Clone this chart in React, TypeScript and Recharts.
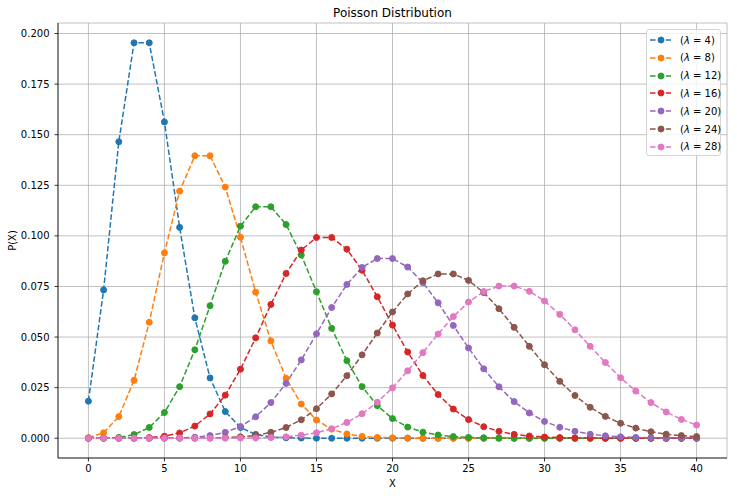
import { LineChart, Line, XAxis, YAxis, CartesianGrid, Legend } from "recharts";

const FONT = "DejaVu Sans";

const ks = Array.from({ length: 41 }, (_, i) => i);

const lambdas = [4, 8, 12, 16, 20, 24, 28];
const colors = ["#1f77b4", "#ff7f0e", "#2ca02c", "#d62728", "#9467bd", "#8c564b", "#e377c2"];

const lam4 = [
  0.0183, 0.0733, 0.1465, 0.1954, 0.1954, 0.1563, 0.1042, 0.0595, 0.0298, 0.0132,
  0.0053, 0.0019, 0.0006, 0.0002, 0.0001, 0, 0, 0, 0, 0,
  0, 0, 0, 0, 0, 0, 0, 0, 0, 0,
  0, 0, 0, 0, 0, 0, 0, 0, 0, 0,
  0,
];
const lam8 = [
  0.0003, 0.0027, 0.0107, 0.0286, 0.0573, 0.0916, 0.1221, 0.1396, 0.1396, 0.1241,
  0.0993, 0.0722, 0.0481, 0.0296, 0.0169, 0.009, 0.0045, 0.0021, 0.0009, 0.0004,
  0.0002, 0.0001, 0, 0, 0, 0, 0, 0, 0, 0,
  0, 0, 0, 0, 0, 0, 0, 0, 0, 0,
  0,
];
const lam12 = [
  0, 0.0001, 0.0004, 0.0018, 0.0053, 0.0127, 0.0255, 0.0437, 0.0655, 0.0874,
  0.1048, 0.1144, 0.1144, 0.1056, 0.0905, 0.0724, 0.0543, 0.0383, 0.0255, 0.0161,
  0.0097, 0.0055, 0.003, 0.0016, 0.0008, 0.0004, 0.0002, 0.0001, 0, 0,
  0, 0, 0, 0, 0, 0, 0, 0, 0, 0,
  0,
];
const lam16 = [
  0, 0, 0, 0.0001, 0.0003, 0.001, 0.0026, 0.006, 0.012, 0.0213,
  0.0341, 0.0496, 0.0661, 0.0814, 0.093, 0.0992, 0.0992, 0.0934, 0.083, 0.0699,
  0.0559, 0.0426, 0.031, 0.0216, 0.0144, 0.0092, 0.0057, 0.0034, 0.0019, 0.0011,
  0.0006, 0.0003, 0.0001, 0.0001, 0, 0, 0, 0, 0, 0,
  0,
];
const lam20 = [
  0, 0, 0, 0, 0, 0.0001, 0.0002, 0.0005, 0.0013, 0.0029,
  0.0058, 0.0106, 0.0176, 0.0271, 0.0387, 0.0516, 0.0646, 0.076, 0.0844, 0.0888,
  0.0888, 0.0846, 0.0769, 0.0669, 0.0557, 0.0446, 0.0343, 0.0254, 0.0181, 0.0125,
  0.0083, 0.0054, 0.0034, 0.002, 0.0012, 0.0007, 0.0004, 0.0002, 0.0001, 0.0001,
  0,
];
const lam24 = [
  0, 0, 0, 0, 0, 0, 0, 0, 0.0001, 0.0003,
  0.0007, 0.0014, 0.0029, 0.0053, 0.0091, 0.0146, 0.0219, 0.0309, 0.0412, 0.052,
  0.0624, 0.0713, 0.0778, 0.0812, 0.0812, 0.078, 0.072, 0.064, 0.0548, 0.0454,
  0.0363, 0.0281, 0.0211, 0.0153, 0.0108, 0.0074, 0.005, 0.0032, 0.002, 0.0013,
  0.0008,
];
const lam28 = [
  0, 0, 0, 0, 0, 0, 0, 0, 0, 0,
  0.0001, 0.0001, 0.0003, 0.0007, 0.0015, 0.0027, 0.0047, 0.0078, 0.0121, 0.0178,
  0.0249, 0.0333, 0.0423, 0.0515, 0.0601, 0.0673, 0.0725, 0.0752, 0.0752, 0.0726,
  0.0678, 0.0612, 0.0536, 0.0454, 0.0374, 0.0299, 0.0233, 0.0176, 0.013, 0.0093,
  0.0065,
];

const seriesValues = [lam4, lam8, lam12, lam16, lam20, lam24, lam28];

const xTicks = [0, 5, 10, 15, 20, 25, 30, 35, 40];
const yTicks = [0, 0.025, 0.05, 0.075, 0.1, 0.125, 0.15, 0.175, 0.2];

const data = ks.map((k, i) => {
  const row: Record<string, number> = { x: k };
  lambdas.forEach((l, j) => {
    row[`l${l}`] = seriesValues[j][i];
  });
  return row;
});

const W = 737;
const H = 496;
const PLOT_LEFT = 58;
const PLOT_RIGHT = 727;
const PLOT_TOP = 23;
const PLOT_BOTTOM = 458;

function LegendBox() {
  return (
    <div
      style={{
        width: 75,
        height: 127,
        boxSizing: "border-box",
        border: "1px solid #d5d5d5",
        borderRadius: 3,
        background: "rgba(255,255,255,0.8)",
        fontFamily: FONT,
        fontSize: 10,
        color: "#000",
        position: "relative",
      }}
    >
      {lambdas.map((l, j) => (
        <div
          key={l}
          style={{
            position: "absolute",
            left: 0,
            top: 10 + j * 17.8 - 7,
            height: 14,
            display: "flex",
            alignItems: "center",
            whiteSpace: "nowrap",
          }}
        >
          <svg width={32} height={14} style={{ display: "block" }}>
            <line x1={3} x2={24} y1={7} y2={7} stroke={colors[j]} strokeWidth={1.5} strokeDasharray="5.55 2.4" />
            <circle cx={14} cy={7} r={3} fill={colors[j]} stroke={colors[j]} strokeWidth={1} />
          </svg>
          <span style={{ marginLeft: 1 }}>
            (<span style={{ fontStyle: "italic" }}>λ</span> = {l})
          </span>
        </div>
      ))}
    </div>
  );
}

export default function App() {
  return (
    <div style={{ position: "absolute", left: 0, top: 0, width: W, height: H, background: "#fff" }}>
      <LineChart
        width={W}
        height={H}
        data={data}
        margin={{ top: PLOT_TOP, right: W - PLOT_RIGHT, left: 0, bottom: 0 }}
      >
        <CartesianGrid stroke="#b0b0b0" strokeWidth={0.8} />
        <XAxis
          dataKey="x"
          type="number"
          domain={[-2, 42]}
          ticks={xTicks}
          allowDataOverflow
          height={H - PLOT_BOTTOM}
          axisLine={{ stroke: "#000", strokeWidth: 0.8 }}
          tickLine={{ stroke: "#000", strokeWidth: 0.8 }}
          tickSize={3.5}
          tickMargin={3}
          tick={{ fontSize: 10, fill: "#000", fontFamily: FONT }}
        />
        <XAxis
          xAxisId="top"
          orientation="top"
          dataKey="x"
          type="number"
          domain={[-2, 42]}
          height={0}
          tick={false}
          tickLine={false}
          axisLine={{ stroke: "#000", strokeWidth: 0.8 }}
        />
        <YAxis
          type="number"
          domain={[-0.00977, 0.2052]}
          ticks={yTicks}
          allowDataOverflow
          width={PLOT_LEFT}
          axisLine={{ stroke: "#000", strokeWidth: 0.8 }}
          tickLine={{ stroke: "#000", strokeWidth: 0.8 }}
          tickSize={3.5}
          tickMargin={5}
          tickFormatter={(v: number) => v.toFixed(3)}
          tick={{ fontSize: 10, fill: "#000", fontFamily: FONT }}
        />
        <YAxis
          yAxisId="right"
          orientation="right"
          type="number"
          domain={[-0.00977, 0.2052]}
          width={0}
          tick={false}
          tickLine={false}
          axisLine={{ stroke: "#000", strokeWidth: 0.8 }}
        />
        {lambdas.map((l, j) => (
          <Line
            key={l}
            type="linear"
            dataKey={`l${l}`}
            name={`(λ = ${l})`}
            stroke={colors[j]}
            strokeWidth={1.5}
            strokeDasharray="5.55 2.4"
            dot={{ r: 3, fill: colors[j], stroke: colors[j], strokeWidth: 1, strokeDasharray: "" }}
            isAnimationActive={false}
          />
        ))}
        <Legend
          layout="horizontal"
          align="center"
          verticalAlign="middle"
          content={() => <LegendBox />}
          wrapperStyle={{ left: 646, top: 29, width: 75, height: 127 }}
        />
      </LineChart>
      <svg
        width={W}
        height={H}
        style={{ position: "absolute", left: 0, top: 0, pointerEvents: "none" }}
      >
        <text x={(PLOT_LEFT + PLOT_RIGHT) / 2} y={17} textAnchor="middle" fontFamily={FONT} fontSize={12} fill="#000">
          Poisson Distribution
        </text>
        <text x={(PLOT_LEFT + PLOT_RIGHT) / 2} y={487} textAnchor="middle" fontFamily={FONT} fontSize={10} fill="#000">
          X
        </text>
        <text
          x={15.5}
          y={(PLOT_TOP + PLOT_BOTTOM) / 2}
          textAnchor="middle"
          fontFamily={FONT}
          fontSize={10}
          fill="#000"
          transform={`rotate(-90 15.5 ${(PLOT_TOP + PLOT_BOTTOM) / 2})`}
        >
          P(X)
        </text>
      </svg>
    </div>
  );
}
